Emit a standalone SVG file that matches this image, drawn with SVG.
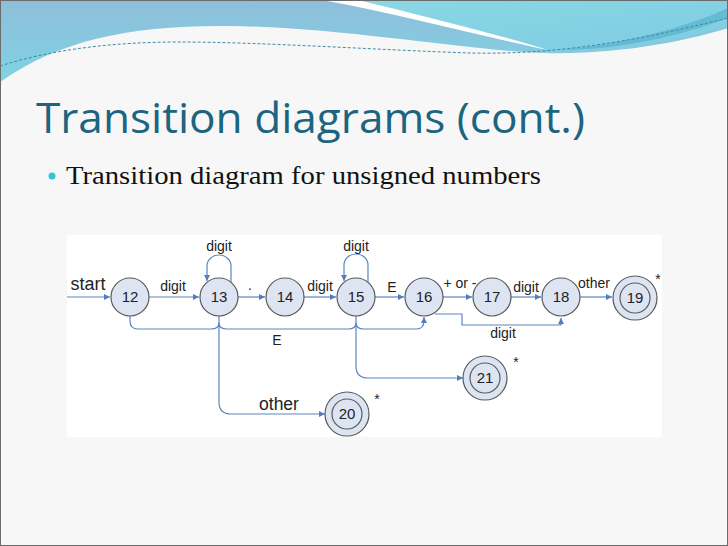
<svg xmlns="http://www.w3.org/2000/svg" width="728" height="546" viewBox="0 0 728 546">
<defs>
<linearGradient id="gA" x1="0" y1="0" x2="0" y2="1">
<stop offset="0" stop-color="#8fbedb"/>
<stop offset="1" stop-color="#7fd3e2"/>
</linearGradient>
<linearGradient id="gB" x1="0" y1="0" x2="1" y2="1">
<stop offset="0" stop-color="#8ad8e3"/>
<stop offset="1" stop-color="#7fcbe3"/>
</linearGradient>
<marker id="ah" viewBox="0 0 10 10" refX="10" refY="5" markerWidth="6" markerHeight="6" markerUnits="userSpaceOnUse" orient="auto">
<path d="M0,0 L10,5 L0,10 Z" fill="#4f7fbf"/>
</marker>
<style>
.n{fill:#dde5f2;stroke:#5a5a5a;stroke-width:1.2}
.ni{fill:none;stroke:#5a5a5a;stroke-width:1.2}
.nt{font-family:"Liberation Sans",Arial,sans-serif;font-size:15px;fill:#222;text-anchor:middle}
.e{fill:none;stroke:#5b86c0;stroke-width:1.2}
.ea{fill:none;stroke:#5b86c0;stroke-width:1.2;marker-end:url(#ah)}
.l{font-family:"Liberation Sans",Arial,sans-serif;font-size:14px;fill:#222;text-anchor:middle}
</style>
</defs>
<rect x="0" y="0" width="728" height="546" fill="#f7f7f7"/>
<path d="M0,0 H728 V28 C690,40 620,55 545,53 C470,51 340,27 230,26 C130,25 60,40 0,82 Z" fill="url(#gA)"/>
<path d="M358,0 H728 V26 C690,38 620,50 548,50 C500,35 420,15 358,0 Z" fill="url(#gB)"/>
<path d="M322,0 H358 C420,15 500,35 548,50 C480,36 400,14 322,0 Z" fill="#ffffff"/>
<path d="M560,50 C620,44 680,30 728,8 V18 C680,36 620,50 560,50 Z" fill="#55b3cc" opacity="0.7"/>
<path d="M0,66 C50,50 110,42 180,42 C260,42 380,50 470,53 C560,55 640,40 728,18" fill="none" stroke="#3f8aa6" stroke-width="1" stroke-dasharray="3 2"/>
<rect x="0.5" y="0.5" width="727" height="545" fill="none" stroke="#6b6b6b" stroke-width="1"/>
<text x="36" y="133" font-family="'Open Sans','Noto Sans',sans-serif" font-size="42" fill="#1c6580" textLength="549" lengthAdjust="spacingAndGlyphs">Transition diagrams (cont.)</text>
<circle cx="52" cy="176" r="3.5" fill="#35c3d8"/>
<text x="66" y="184" font-family="'Liberation Serif','Times New Roman',serif" font-size="25" fill="#111" textLength="475" lengthAdjust="spacingAndGlyphs">Transition diagram for unsigned numbers</text>
<rect x="67" y="235" width="595" height="202" fill="#ffffff"/>
<g id="connectors">
<path class="ea" d="M67,297 H110"/>
<path class="ea" d="M149,297 H199"/>
<path class="ea" d="M238,297 H265"/>
<path class="ea" d="M304,297 H336"/>
<path class="ea" d="M375,297 H404"/>
<path class="ea" d="M443,297 H472"/>
<path class="ea" d="M511,297 H541"/>
<path class="ea" d="M580,297 H612"/>
<path class="ea" d="M231,282 V266 A12,11 0 0 0 207,266 V281"/>
<path class="ea" d="M368,282 V265 A12,11 0 0 0 344,265 V281"/>
<path class="e" d="M130,316 V321 Q130,329 138,329 H211 Q219,329 219,323"/>
<path class="e" d="M219,323 Q219,329 227,329 H348 Q356,329 356,323"/>
<path class="ea" d="M356,323 Q356,329 364,329 H416 Q424,329 424,321 V317"/>
<path class="ea" d="M219,316 V402 Q219,414 231,414 H325"/>
<path class="ea" d="M356,316 V366 Q356,378 368,378 H463"/>
<path class="ea" d="M435,314 H462 V325 H561 V318"/>
</g>
<g id="labels">
<text x="88" y="290" class="l" style="font-size:18px">start</text>
<text x="173" y="291" class="l">digit</text>
<text x="219" y="251" class="l">digit</text>
<text x="250" y="290" class="l">.</text>
<text x="320" y="291" class="l">digit</text>
<text x="356" y="251" class="l">digit</text>
<text x="392" y="292" class="l">E</text>
<text x="460" y="288" class="l">+ or -</text>
<text x="526" y="292" class="l">digit</text>
<text x="594" y="288" class="l">other</text>
<text x="277" y="345" class="l">E</text>
<text x="503" y="338" class="l">digit</text>
<text x="279" y="410" class="l" style="font-size:17.5px">other</text>
<text x="658" y="284" class="l">*</text>
<text x="516" y="367" class="l">*</text>
<text x="377" y="404" class="l">*</text>
</g>
<g id="n12"><circle class="n" cx="130" cy="297" r="19"/><text class="nt" x="130" y="302">12</text></g>
<g id="n13"><circle class="n" cx="219" cy="297" r="19"/><text class="nt" x="219" y="302">13</text></g>
<g id="n14"><circle class="n" cx="285" cy="297" r="19"/><text class="nt" x="285" y="302">14</text></g>
<g id="n15"><circle class="n" cx="356" cy="297" r="19"/><text class="nt" x="356" y="302">15</text></g>
<g id="n16"><circle class="n" cx="424" cy="297" r="19"/><text class="nt" x="424" y="302">16</text></g>
<g id="n17"><circle class="n" cx="492" cy="297" r="19"/><text class="nt" x="492" y="302">17</text></g>
<g id="n18"><circle class="n" cx="561" cy="297" r="19"/><text class="nt" x="561" y="302">18</text></g>
<g id="n19"><circle class="n" cx="635" cy="298" r="22"/><circle class="ni" cx="635" cy="298" r="15"/><text class="nt" x="635" y="303">19</text></g>
<g id="n20"><circle class="n" cx="347" cy="414" r="22"/><circle class="ni" cx="347" cy="414" r="15"/><text class="nt" x="347" y="419">20</text></g>
<g id="n21"><circle class="n" cx="485" cy="378" r="22"/><circle class="ni" cx="485" cy="378" r="15"/><text class="nt" x="485" y="383">21</text></g>
</svg>
